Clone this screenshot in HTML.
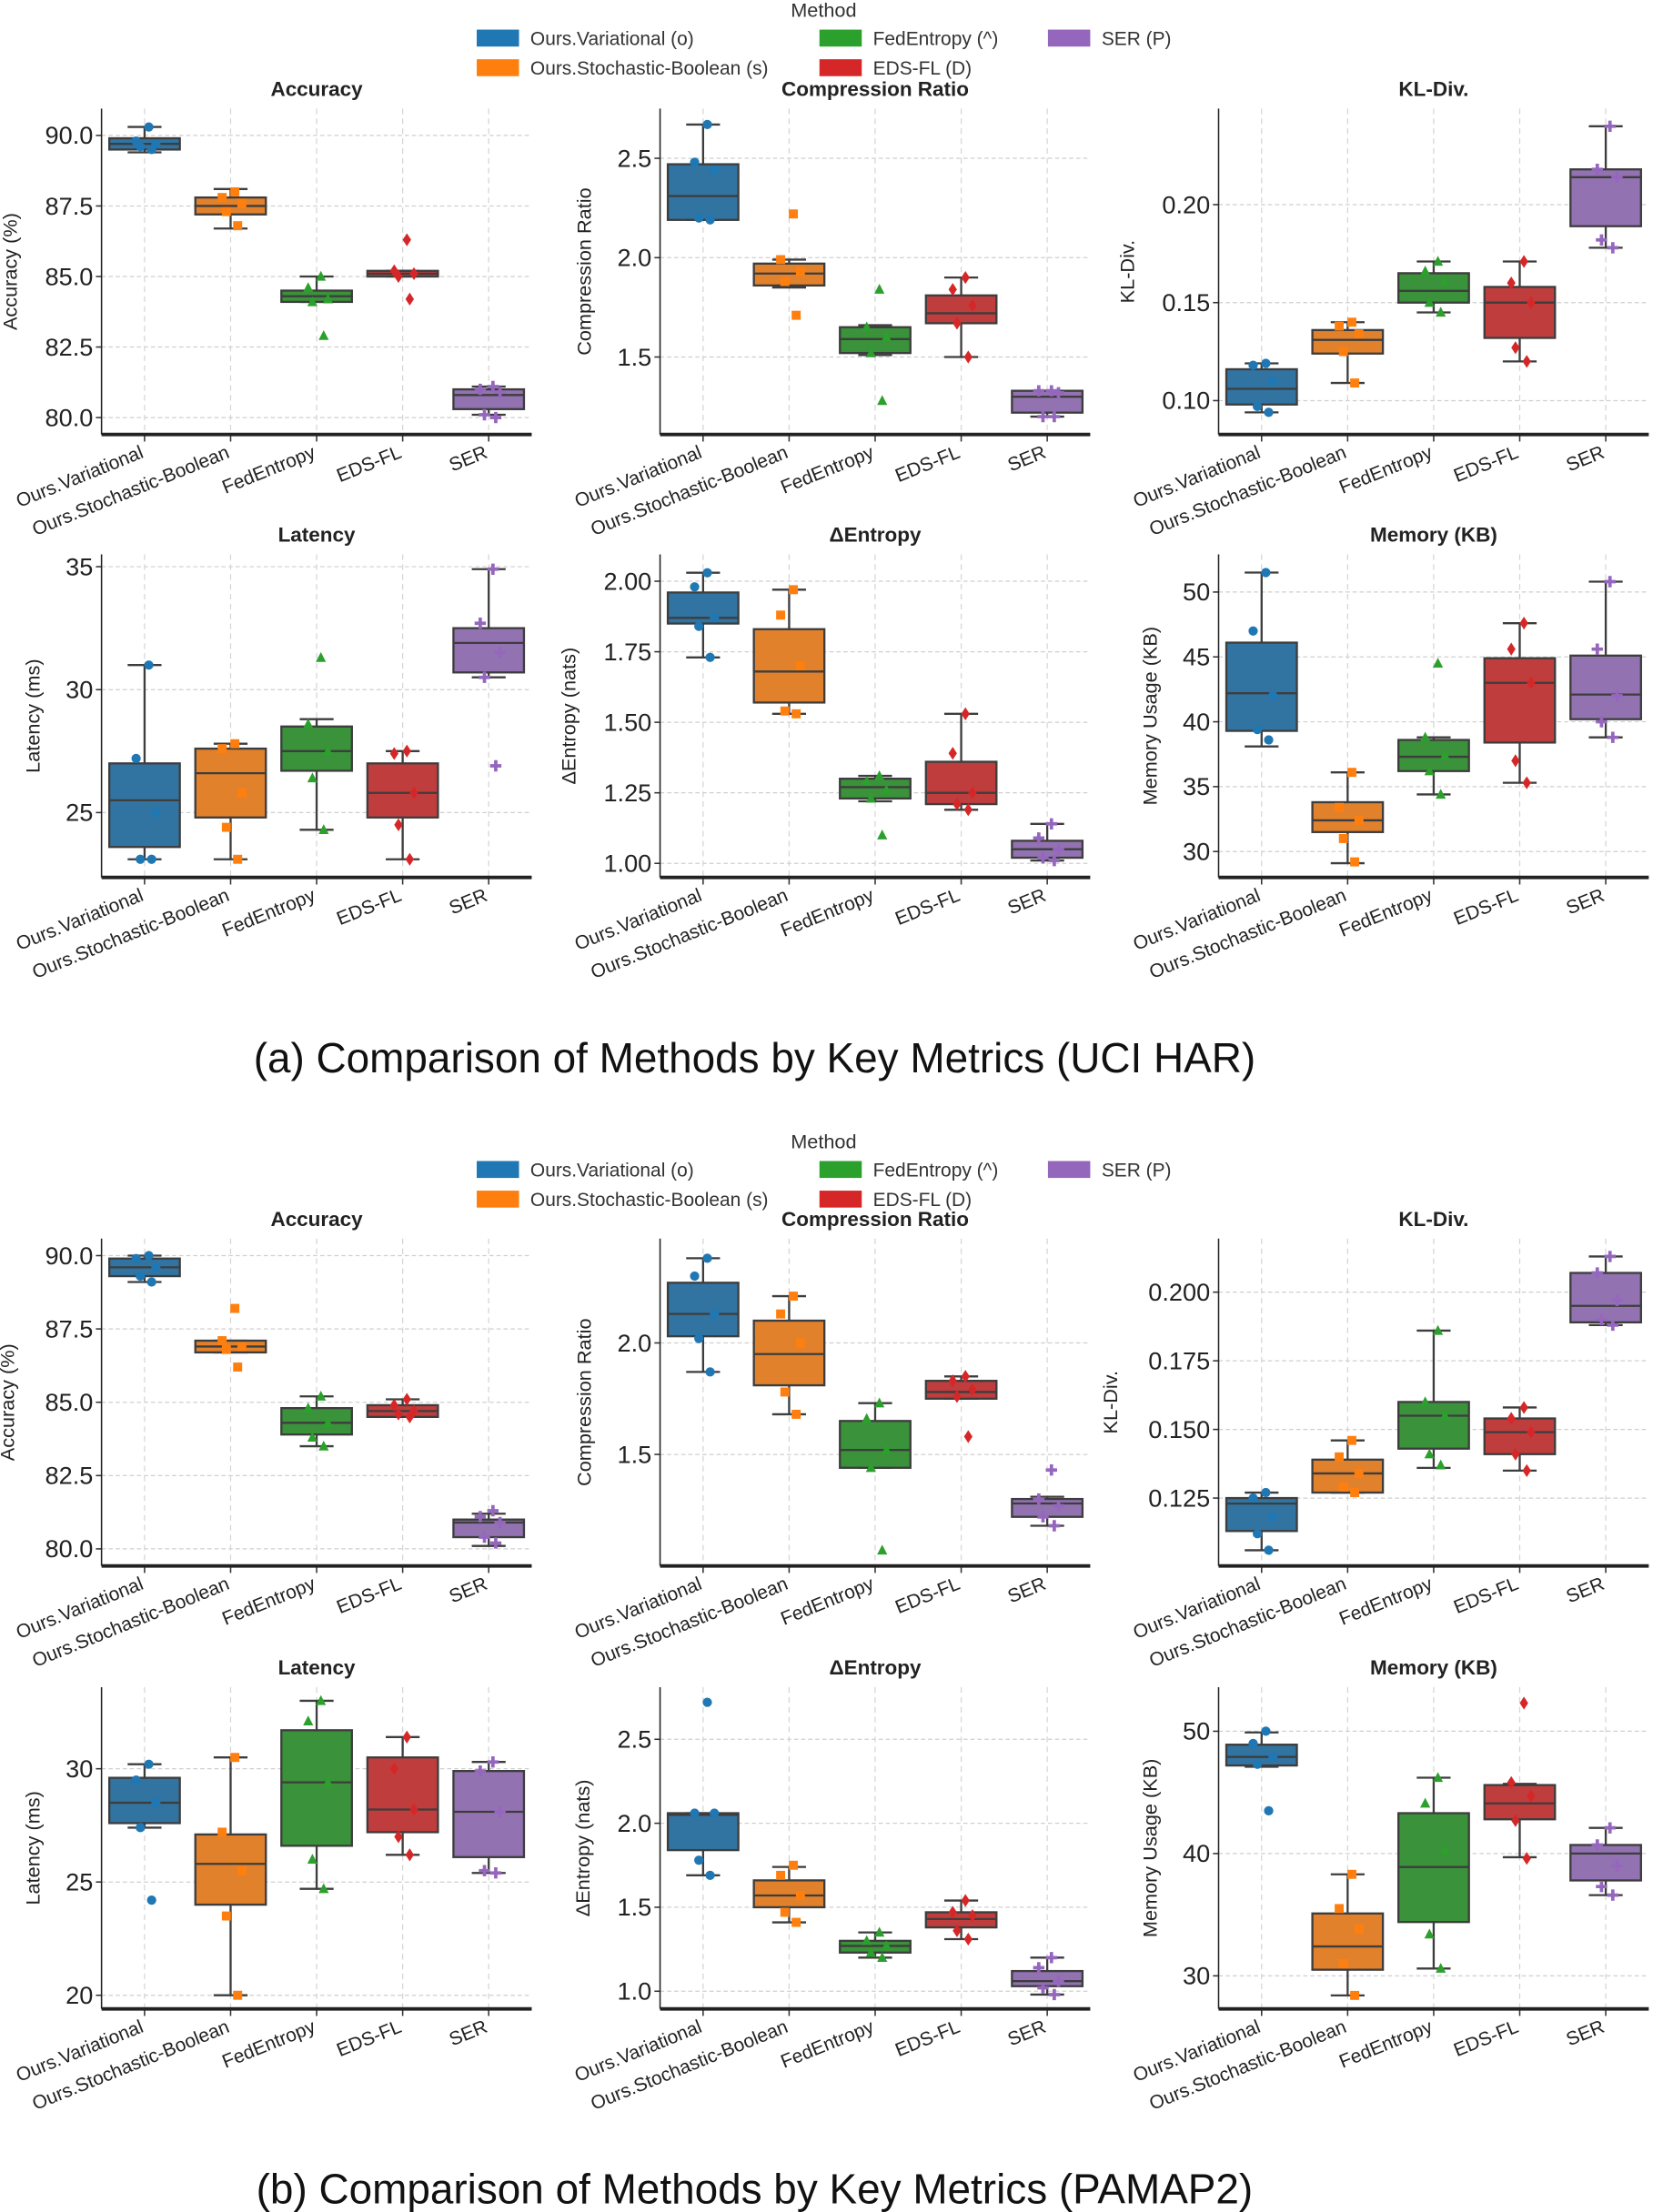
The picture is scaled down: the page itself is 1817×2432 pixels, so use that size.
<!DOCTYPE html>
<html><head><meta charset="utf-8">
<style>
html,body{margin:0;padding:0;background:#fff;}
svg{display:block;font-family:"Liberation Sans","DejaVu Sans",sans-serif;}
</style></head>
<body>
<svg id="fig" width="1817" height="2432" viewBox="0 0 1172 1568" preserveAspectRatio="none" xmlns="http://www.w3.org/2000/svg">
<text x="535" y="760" font-size="29.6" text-anchor="middle" fill="#111">(a) Comparison of Methods by Key Metrics (UCI HAR)</text>
<text x="535" y="1562" font-size="29.6" text-anchor="middle" fill="#111">(b) Comparison of Methods by Key Metrics (PAMAP2)</text>
</svg>
<script>
// ---- data ----
const categories = ["Ours.Variational","Ours.Stochastic-Boolean","FedEntropy","EDS-FL","SER"];
const legendLabels = ["Ours.Variational (o)","Ours.Stochastic-Boolean (s)","FedEntropy (^)","EDS-FL (D)","SER (P)"];
// box stats: [whiskerLow, q1, median, q3, whiskerHigh]
const accA_box = [[89.4,89.5,89.7,89.9,90.3],[86.7,87.2,87.5,87.8,88.1],[84.1,84.1,84.3,84.5,85.0],[85.0,85.0,85.1,85.2,85.2],[80.1,80.3,80.8,81.0,81.1]];
const accA_pts = [[90.3,89.8,89.7,89.6,89.5],[88.0,87.8,87.6,87.3,86.8],[85.0,84.6,84.2,84.1,82.9],[86.3,85.2,85.1,85.0,84.2],[81.1,81.0,80.9,80.1,80.0]];
const crA_box = [[2.19,2.19,2.31,2.47,2.67],[1.85,1.86,1.92,1.97,1.99],[1.51,1.52,1.59,1.65,1.66],[1.50,1.67,1.72,1.81,1.90],[1.20,1.22,1.30,1.33,1.33]];
const crA_pts = [[2.67,2.48,2.44,2.20,2.19],[2.22,1.99,1.93,1.88,1.71],[1.84,1.65,1.60,1.52,1.28],[1.90,1.84,1.76,1.67,1.50],[1.33,1.33,1.32,1.20,1.20]];
const klA_box = [[0.094,0.098,0.106,0.116,0.119],[0.109,0.124,0.131,0.136,0.140],[0.145,0.150,0.156,0.165,0.171],[0.120,0.132,0.150,0.158,0.171],[0.178,0.189,0.214,0.218,0.240]];
const klA_pts = [[0.119,0.118,0.110,0.097,0.094],[0.140,0.138,0.134,0.125,0.109],[0.171,0.166,0.161,0.150,0.145],[0.171,0.160,0.150,0.127,0.120],[0.240,0.218,0.214,0.182,0.178]];
const latA_box = [[23.1,23.6,25.5,27.0,31.0],[23.1,24.8,26.6,27.6,27.8],[24.3,26.7,27.5,28.5,28.8],[23.1,24.8,25.8,27.0,27.5],[30.5,30.7,31.9,32.5,34.9]];
const latA_pts = [[31.0,27.2,25.0,23.1,23.1],[27.8,27.6,25.8,24.4,23.1],[31.3,28.6,27.5,26.4,24.3],[27.5,27.4,25.8,24.5,23.1],[34.9,32.7,31.5,30.5,26.9]];
const entA_box = [[1.73,1.85,1.87,1.96,2.03],[1.53,1.57,1.68,1.83,1.97],[1.22,1.23,1.27,1.30,1.31],[1.19,1.21,1.25,1.36,1.53],[1.01,1.02,1.05,1.08,1.14]];
const entA_pts = [[2.03,1.98,1.87,1.84,1.73],[1.97,1.88,1.70,1.54,1.53],[1.31,1.29,1.26,1.23,1.10],[1.53,1.39,1.25,1.21,1.19],[1.14,1.09,1.05,1.02,1.01]];
const memA_box = [[38.1,39.3,42.2,46.1,51.5],[29.1,31.5,32.4,33.8,36.1],[34.4,36.2,37.3,38.6,38.8],[35.3,38.4,43.0,44.9,47.6],[38.8,40.2,42.1,45.1,50.8]];
const memA_pts = [[51.5,47.0,42.0,39.4,38.6],[36.1,33.4,32.4,31.0,29.2],[44.5,38.8,37.4,36.2,34.4],[47.6,45.6,43.0,37.0,35.3],[50.8,45.6,42.0,40.0,38.8]];
const accB_box = [[89.1,89.3,89.6,89.9,90.0],[86.7,86.7,86.9,87.1,87.1],[83.5,83.9,84.3,84.8,85.2],[84.5,84.5,84.7,84.9,85.1],[80.1,80.4,80.9,81.0,81.2]];
const accB_pts = [[90.0,89.9,89.6,89.3,89.1],[88.2,87.1,86.9,86.8,86.2],[85.2,84.8,84.3,83.8,83.5],[85.1,84.9,84.7,84.6,84.5],[81.3,81.1,80.9,80.4,80.2]];
const crB_box = [[1.87,2.03,2.13,2.27,2.38],[1.68,1.81,1.95,2.10,2.21],[1.44,1.44,1.52,1.65,1.73],[1.75,1.75,1.78,1.83,1.85],[1.18,1.22,1.28,1.30,1.31]];
const crB_pts = [[2.38,2.30,2.13,2.02,1.87],[2.21,2.13,2.00,1.78,1.68],[1.73,1.66,1.52,1.44,1.07],[1.85,1.83,1.79,1.76,1.58],[1.43,1.30,1.27,1.22,1.18]];
const klB_box = [[0.106,0.113,0.123,0.125,0.127],[0.127,0.127,0.134,0.139,0.146],[0.136,0.143,0.155,0.160,0.186],[0.135,0.141,0.149,0.154,0.158],[0.188,0.189,0.195,0.207,0.213]];
const klB_pts = [[0.127,0.125,0.118,0.112,0.106],[0.146,0.140,0.134,0.129,0.127],[0.186,0.160,0.155,0.141,0.137],[0.158,0.154,0.149,0.141,0.135],[0.213,0.207,0.197,0.190,0.188]];
const latB_box = [[27.4,27.6,28.5,29.6,30.2],[20.0,24.0,25.8,27.1,30.5],[24.7,26.6,29.4,31.7,33.0],[26.2,27.2,28.2,30.5,31.4],[25.4,26.1,28.1,29.9,30.3]];
const latB_pts = [[30.2,29.5,28.5,27.4,24.2],[30.5,27.2,25.5,23.5,20.0],[33.0,32.1,29.4,26.0,24.7],[31.4,30.0,28.2,27.0,26.2],[30.3,29.9,28.1,25.5,25.4]];
const entB_box = [[1.69,1.84,2.05,2.06,2.06],[1.41,1.50,1.57,1.66,1.74],[1.20,1.23,1.27,1.30,1.35],[1.31,1.38,1.43,1.47,1.54],[0.98,1.03,1.06,1.12,1.20]];
const entB_pts = [[2.72,2.06,2.06,1.78,1.69],[1.75,1.69,1.57,1.47,1.41],[1.35,1.30,1.27,1.23,1.20],[1.54,1.47,1.45,1.36,1.31],[1.20,1.14,1.06,1.02,0.98]];
const memB_box = [[47.1,47.2,47.9,48.9,49.9],[28.4,30.5,32.4,35.1,38.3],[30.6,34.4,38.9,43.3,46.2],[39.7,42.8,44.1,45.6,45.7],[36.6,37.8,40.0,40.7,42.1]];
const memB_pts = [[50.0,49.0,47.9,47.3,43.5],[38.3,35.5,33.8,31.0,28.4],[46.2,44.1,40.3,33.4,30.6],[52.3,45.8,44.7,42.7,39.6],[42.1,40.7,39.0,37.3,36.6]];
// axis domains [lo, hi]
const accA_dom=[79.4,90.95], crA_dom=[1.11,2.75], klA_dom=[0.0827,0.249], latA_dom=[22.36,35.5], entA_dom=[0.95,2.095], memA_dom=[28.0,52.9];
const accB_dom=[79.42,90.58], crB_dom=[1.0,2.468], klB_dom=[0.1003,0.2195], latB_dom=[19.4,33.6], entB_dom=[0.895,2.81], memB_dom=[27.3,53.6];
// ticks
const accTicks=[80,82.5,85,87.5,90], accTickLabels=["80.0","82.5","85.0","87.5","90.0"];
const crA_ticks=[1.5,2.0,2.5], crA_tickLabels=["1.5","2.0","2.5"];
const klA_ticks=[0.10,0.15,0.20], klA_tickLabels=["0.10","0.15","0.20"];
const latA_ticks=[25,30,35], latA_tickLabels=["25","30","35"];
const entA_ticks=[1.0,1.25,1.5,1.75,2.0], entA_tickLabels=["1.00","1.25","1.50","1.75","2.00"];
const memA_ticks=[30,35,40,45,50], memA_tickLabels=["30","35","40","45","50"];
const crB_ticks=[1.5,2.0], crB_tickLabels=["1.5","2.0"];
const klB_ticks=[0.125,0.15,0.175,0.2], klB_tickLabels=["0.125","0.150","0.175","0.200"];
const latB_ticks=[20,25,30], latB_tickLabels=["20","25","30"];
const entB_ticks=[1.0,1.5,2.0,2.5], entB_tickLabels=["1.0","1.5","2.0","2.5"];
const memB_ticks=[30,40,50], memB_tickLabels=["30","40","50"];

// ---- styling ----
const boxFill=["#3274a1","#e1812c","#3a923a","#c03d3e","#9372b2"];
const ptFill=["#1f77b4","#ff7f0e","#2ca02c","#d62728","#9467bd"];
const markers=["o","s","^","D","P"];
const jit=[3,-6,8,-3,5];
const colX=[72,468,864], axW=305;
const rows=[[77,308],[393,622],[878,1110],[1196,1424]];
const NS="http://www.w3.org/2000/svg";
const svg=document.getElementById('fig');
function el(tag,attrs,parent){const e=document.createElementNS(NS,tag);for(const k in attrs)e.setAttribute(k,attrs[k]);(parent||svg).appendChild(e);return e;}

function marker(g,type,x,y,c){
  let m;
  if(type==="o") m=el('circle',{cx:x,cy:y,r:3.3,fill:c},g);
  else if(type==="s") m=el('rect',{x:x-3.2,y:y-3.2,width:6.4,height:6.4,fill:c},g);
  else if(type==="^") m=el('polygon',{points:`${x},${y-4} ${x-3.6},${y+3} ${x+3.6},${y+3}`,fill:c},g);
  else if(type==="D") m=el('polygon',{points:`${x},${y-4.6} ${x-3},${y} ${x},${y+4.6} ${x+3},${y}`,fill:c},g);
  else m=el('path',{d:`M${x-1.2},${y-4}h2.4v2.8h2.8v2.4h-2.8v2.8h-2.4v-2.8h-2.8v-2.4h2.8z`,fill:c},g);
  
  
}

function panel(name,title,ylabel,col,row,dom,ticks,tickLabels,boxes,pts,ylabOff){
  const x0=colX[col], x1=x0+axW, top=rows[row][0], bot=rows[row][1];
  const g=el('g',{});
  
  
  const Y=v=>bot-(v-dom[0])/(dom[1]-dom[0])*(bot-top);
  const X=i=>x0+axW/categories.length*(i+0.5);
  ticks.forEach((t,i)=>{
    const gl=el('line',{x1:x0,x2:x1,y1:Y(t),y2:Y(t),stroke:"#cfcfcf","stroke-width":0.8,"stroke-dasharray":"3,2"},g);
    
    
    const tl=el('line',{x1:x0-4,x2:x0,y1:Y(t),y2:Y(t),stroke:"#333","stroke-width":1},g);
    
    
    const tx=el('text',{x:x0-6,y:Y(t)+6,"font-size":17.5,"text-anchor":"end",fill:"#222"},g);
    tx.textContent=tickLabels[i];
    
    
  });
  categories.forEach((c,i)=>{
    const gl=el('line',{x1:X(i),x2:X(i),y1:top,y2:bot,stroke:"#d5d5d5","stroke-width":0.8,"stroke-dasharray":"4,3"},g);
    
    
    const tk=el('line',{x1:X(i),x2:X(i),y1:bot,y2:bot+5,stroke:"#333","stroke-width":1},g);
    
    
    const t=el('text',{x:X(i),y:bot+16,"font-size":13.5,"text-anchor":"end",fill:"#222",transform:`rotate(-22 ${X(i)} ${bot+16})`},g);
    t.textContent=c;
    
    
  });
  boxes.forEach((b,i)=>{
    const cx=X(i), hw=25;
    const bg=el('g',{},g);
    
    
    el('line',{x1:cx,x2:cx,y1:Y(b[0]),y2:Y(b[1]),stroke:"#3d3d3d","stroke-width":1.5},bg);
    el('line',{x1:cx,x2:cx,y1:Y(b[3]),y2:Y(b[4]),stroke:"#3d3d3d","stroke-width":1.5},bg);
    el('line',{x1:cx-12,x2:cx+12,y1:Y(b[0]),y2:Y(b[0]),stroke:"#3d3d3d","stroke-width":1.5},bg);
    el('line',{x1:cx-12,x2:cx+12,y1:Y(b[4]),y2:Y(b[4]),stroke:"#3d3d3d","stroke-width":1.5},bg);
    el('rect',{x:cx-hw,y:Y(b[3]),width:2*hw,height:Math.max(1,Y(b[1])-Y(b[3])),fill:boxFill[i],stroke:"#3d3d3d","stroke-width":1.5},bg);
    el('line',{x1:cx-hw,x2:cx+hw,y1:Y(b[2]),y2:Y(b[2]),stroke:"#3d3d3d","stroke-width":1.5},bg);
  });
  pts.forEach((arr,i)=>{
    arr.forEach((v,j)=>marker(g,markers[i],X(i)+jit[j],Y(v),ptFill[i]));
  });
  const ls=el('line',{x1:x0,x2:x0,y1:top,y2:bot,stroke:"#222","stroke-width":1},g);
  
  
  const bs=el('line',{x1:x0,x2:x1,y1:bot,y2:bot,stroke:"#222","stroke-width":2.5},g);
  
  
  const tt=el('text',{x:(x0+x1)/2,y:top-9,"font-size":14.5,"font-weight":"bold","text-anchor":"middle",fill:"#222"},g);
  tt.textContent=title;
  
  
  const yl=x0-ylabOff, ym=(top+bot)/2;
  const yt=el('text',{x:yl,y:ym,"font-size":14,"text-anchor":"middle",fill:"#222",transform:`rotate(-90 ${yl} ${ym})`},g);
  yt.textContent=ylabel;
  
  
}

panel('accuracy-a','Accuracy','Accuracy (%)',0,0,accA_dom,accTicks,accTickLabels,accA_box,accA_pts,60);
panel('compression-a','Compression Ratio','Compression Ratio',1,0,crA_dom,crA_ticks,crA_tickLabels,crA_box,crA_pts,49);
panel('kl-a','KL-Div.','KL-Div.',2,0,klA_dom,klA_ticks,klA_tickLabels,klA_box,klA_pts,60);
panel('latency-a','Latency','Latency (ms)',0,1,latA_dom,latA_ticks,latA_tickLabels,latA_box,latA_pts,44);
panel('entropy-a','ΔEntropy','ΔEntropy (nats)',1,1,entA_dom,entA_ticks,entA_tickLabels,entA_box,entA_pts,60);
panel('memory-a','Memory (KB)','Memory Usage (KB)',2,1,memA_dom,memA_ticks,memA_tickLabels,memA_box,memA_pts,44);
panel('accuracy-b','Accuracy','Accuracy (%)',0,2,accB_dom,accTicks,accTickLabels,accB_box,accB_pts,62);
panel('compression-b','Compression Ratio','Compression Ratio',1,2,crB_dom,crB_ticks,crB_tickLabels,crB_box,crB_pts,49);
panel('kl-b','KL-Div.','KL-Div.',2,2,klB_dom,klB_ticks,klB_tickLabels,klB_box,klB_pts,72);
panel('latency-b','Latency','Latency (ms)',0,3,latB_dom,latB_ticks,latB_tickLabels,latB_box,latB_pts,44);
panel('entropy-b','ΔEntropy','ΔEntropy (nats)',1,3,entB_dom,entB_ticks,entB_tickLabels,entB_box,entB_pts,50);
panel('memory-b','Memory (KB)','Memory Usage (KB)',2,3,memB_dom,memB_ticks,memB_tickLabels,memB_box,memB_pts,44);

const legPos=[[338,21],[338,42],[581,21],[581,42],[743,21]];
function legend(name,dy){
  const g=el('g',{});
  
  
  const t=el('text',{x:584,y:12+dy,"font-size":14,"text-anchor":"middle",fill:"#333"},g);
  t.textContent="Method";
  
  
  legendLabels.forEach((l,i)=>{
    const eg=el('g',{},g);
    
    
    el('rect',{x:legPos[i][0],y:legPos[i][1]+dy,width:30,height:12,fill:ptFill[i]},eg);
    const tx=el('text',{x:legPos[i][0]+38,y:legPos[i][1]+dy+11,"font-size":13.5,fill:"#333"},eg);
    tx.textContent=l;
  });
}
legend('legend-a',0);
legend('legend-b',802);
</script>
</body></html>
